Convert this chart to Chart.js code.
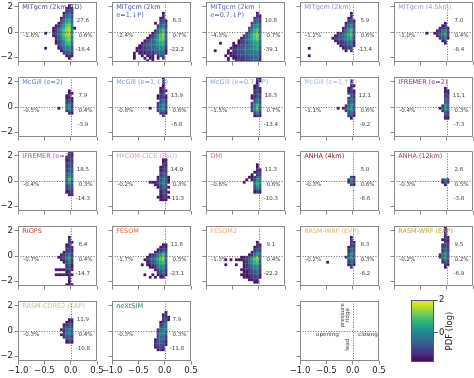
<!DOCTYPE html>
<html>
<head>
<meta charset="utf-8">
<script src="https://cdn.jsdelivr.net/npm/chart.js@4.4.1/dist/chart.umd.min.js"></script>
<style>
  html, body { margin: 0; padding: 0; background: #fff; }
  #fig { position: relative; width: 474px; height: 378px; overflow: hidden; }
  #fig canvas { position: absolute; }
</style>
</head>
<body>
<div id="fig"></div>
<script>
// ---------- data ----------
const xTicks = [-1.0, -0.5, 0.0, 0.5];
const yTicks = [-2, 0, 2];
const cbTicks = [0, 2];
const xRange = [-1.0, 0.5];
const yRange = [-2.4, 2.4];
const cbRange = [-1.8, 2.0];

// x centres of the histogram bins (one character per bin in the cell rows)
const xBinCentres = [-0.975, -0.925, -0.875, -0.825, -0.775, -0.725, -0.675, -0.625, -0.575, -0.525,
  -0.475, -0.425, -0.375, -0.325, -0.275, -0.225, -0.175, -0.125, -0.075, -0.025, 0.025, 0.075, 0.125];
// log PDF value for each digit used in the cell rows
const pdfLevels = [-1.6, -1.2, -0.85, -0.5, -0.15, 0.2, 0.55, 0.9, 1.25, 1.6];

const panelTitles = [
  'MITgcm (2km ITD)', 'MITgcm (2km\ne=1,\u2193P)', 'MITgcm (2km\ne=0.7,\u2193P)', 'MITgcm (2km)', 'MITgcm (4.5km)',
  'McGill (e=2)', 'McGill (e=1,\u2193P)', 'McGill (e=0.7,\u2193P)', 'McGill (e=1,\u2191G)', 'IFREMER (e=2)',
  'IFREMER (e=3)', 'HYCOM-CICE (FSU)', 'DMI', 'ANHA (4km)', 'ANHA (12km)',
  'RIOPS', 'FESOM', 'FESOM2', 'RASM-WRF (EVP)', 'RASM-WRF (EAP)',
  'RASM-CORE2 (EAP)', 'neXtSIM'
];
const pressureRidge = [27.6, 6.3, 10.8, 5.9, 7.0, 7.9, 13.9, 18.3, 12.1, 11.1, 18.5, 14.0, 11.3, 5.0, 2.6,
  6.4, 11.6, 9.1, 8.3, 9.5, 11.9, 7.9];
const leadValue = [-16.4, -22.2, -39.1, -13.4, -8.4, -3.9, -6.8, -13.4, -9.2, -7.3, -14.3, -11.3, -10.3, -6.6, -3.8,
  -14.7, -23.1, -22.2, -6.2, -6.9, -10.8, -11.8];
const openingPct = [-1.6, -2.4, -4.3, -1.2, -1.0, -0.5, -0.8, -1.5, -1.1, -0.4, -0.4, -0.2, -0.6, -0.3, -0.3,
  -0.7, -1.7, -1.3, -0.2, -0.2, -0.3, -0.3];
const closingPct = [0.6, 0.7, 0.7, 0.6, 0.4, 0.4, 0.6, 0.7, 0.6, 0.3, 0.3, 0.3, 0.6, 0.6, 0.5,
  0.4, 0.5, 0.4, 0.3, 0.2, 0.4, 0.3];
const titleColors = ['#4b4f8f', '#4c5a98', '#5a68a8', '#8a90c2', '#9c9ccc',
  '#5a80b2', '#7c9ccc', '#8eaed6', '#a6bedc', '#783078',
  '#9a5a9a', '#dca6cc', '#c878a8', '#8a1c2c', '#9a3848',
  '#b04838', '#d06a3a', '#eaa878', '#d6b868', '#b6a63a',
  '#c6c690', '#2a8050'];

// cell rows: "y centre:one digit per x bin" ('.' = empty bin)
const cellsMitItd = [
  "2.1:...................0...",
  "1.9:..................100..",
  "1.7:..................121..",
  "1.5:.................0231..",
  "1.3:.................1342..",
  "1.1:................02452..",
  "0.9:................13563..",
  "0.7:...............024673..",
  "0.5:..............0135784..",
  "0.3:.............012468940.",
  "0.1:.............01357895..",
  "-0.1:..........0..12357895..",
  "-0.3:.............01357895..",
  "-0.5:..............1246784..",
  "-0.7:..............0235784..",
  "-0.9:..............0134673..",
  "-1.1:...............124563..",
  "-1.3:..........0....013452..",
  "-1.5:................02342..",
  "-1.7:.................1231..",
  "-1.9:..................010..",
  "-2.1:...................0..."
];
const cellsMitE1 = [
  "1.5:...................0...",
  "1.3:...................1...",
  "1.1:..................01...",
  "0.9:..................120..",
  "0.7:................0.231..",
  "0.5:.................1241..",
  "0.3:.................2452..",
  "0.1:................13573..",
  "-0.1:...............024683..",
  "-0.3:..............0135783..",
  "-0.5:.............01245783..",
  "-0.7:............012346772..",
  "-0.9:...........0123345662..",
  "-1.1:..........01223345561..",
  "-1.3:.........001122334451..",
  "-1.5:.........011122233440..",
  "-1.7:........0.01011122330..",
  "-1.9:........0..0.010.122...",
  "-2.1:........0...0.00.0.1...",
  "-2.3:.............0.0......."
];
const cellsMitE07 = [
  "1.5:...................0...",
  "1.3:...................10..",
  "1.1:..................121..",
  "0.9:..................231..",
  "0.7:.................1342..",
  "0.5:.................2452..",
  "0.3:................13563..",
  "0.1:................24673..",
  "-0.1:...............135784..",
  "-0.3:..............1246784..",
  "-0.5:.............01346784..",
  "-0.7:............012345673..",
  "-0.9:.....0....0.012234563..",
  "-1.1:..........00122334563..",
  "-1.3:.........011223344562..",
  "-1.5:...0....0.11223334452..",
  "-1.7:........0011222333441..",
  "-1.9:.......0.001122233341..",
  "-2.1:........0.00111222331..",
  "-2.3:........0..0101112220.."
];
const cellsMit2km = [
  "1.5:...................0...",
  "1.3:...................1...",
  "1.1:..................01...",
  "0.9:..................120..",
  "0.7:.................0231..",
  "0.5:.................1351..",
  "0.3:................02462..",
  "0.1:................13572..",
  "-0.1:..............0124672..",
  "-0.3:.............01234672..",
  "-0.5:............012234561..",
  "-0.7:.............01123451..",
  "-0.9:..............0112340..",
  "-1.1:...............011230..",
  "-1.3:...0............0112...",
  "-1.5:.................0.1...",
  "-1.9:...0..................."
];
const cellsMit45km = [
  "0.7:...................0...",
  "0.5:..................01...",
  "0.3:.................0120..",
  "0.1:................01341..",
  "-0.1:............0..012461..",
  "-0.3:................02351..",
  "-0.5:.................1240..",
  "-0.7:..................02...",
  "-0.9:...................0..."
];
const cellsMcgE2 = [
  "1.3:...................0...",
  "1.1:...................00..",
  "0.9:..................01...",
  "0.7:..................010..",
  "0.5:..................120..",
  "0.3:..................231..",
  "0.1:..................351..",
  "-0.1:...............0..462..",
  "-0.3:..................131..",
  "-0.5:...................10.."
];
const cellsMcgE1 = [
  "2.3:...................0...",
  "2.1:...................0...",
  "1.9:...................1...",
  "1.7:...................0...",
  "1.5:..................01...",
  "1.3:..................010..",
  "1.1:..................11...",
  "0.9:.................0120..",
  "0.7:.................0120..",
  "0.5:..................231..",
  "0.3:.................1241..",
  "0.1:.................1352..",
  "-0.1:..............0..2462..",
  "-0.3:.................1341..",
  "-0.5:..................120..",
  "-0.7:...................1..."
];
const cellsMcgE07 = [
  "2.3:...................10..",
  "2.1:...................10..",
  "1.9:...................0...",
  "1.7:..................01...",
  "1.5:..................010..",
  "1.3:..................120..",
  "1.1:..................121..",
  "0.9:.................0121..",
  "0.7:.................0131..",
  "0.5:..................242..",
  "0.3:.................1352..",
  "0.1:.................1473..",
  "-0.1:.................2583..",
  "-0.3:.................1462..",
  "-0.5:..................241..",
  "-0.7:..................010.."
];
const cellsMcgG = [
  "2.1:...................0...",
  "1.9:...................1...",
  "1.7:...................10..",
  "1.5:..................01...",
  "1.3:..................010..",
  "1.1:..................120..",
  "0.9:...................21..",
  "0.7:..................131..",
  "0.5:..................231..",
  "0.3:..................242..",
  "0.1:.................1352..",
  "-0.1:..............0.02562..",
  "-0.3:.................1352..",
  "-0.5:..................231..",
  "-0.7:..................120..",
  "-0.9:...................0..."
];
const cellsIfrE2 = [
  "1.5:...................0...",
  "1.3:...................00..",
  "1.1:...................10..",
  "0.9:...................11..",
  "0.7:...................21..",
  "0.5:...................22..",
  "0.3:...................32..",
  "0.1:..................153..",
  "-0.1:.................0263..",
  "-0.3:..................142..",
  "-0.5:...................21..",
  "-0.7:...................11..",
  "-0.9:...................00.."
];
const cellsIfrE3 = [
  "2.3:...................11..",
  "2.1:...................10..",
  "1.9:..................011..",
  "1.7:..................011..",
  "1.5:..................121..",
  "1.3:..................122..",
  "1.1:..................122..",
  "0.9:..................132..",
  "0.7:..................232..",
  "0.5:..................243..",
  "0.3:..................353..",
  "0.1:..................374..",
  "-0.1:..................363..",
  "-0.3:..................242..",
  "-0.5:..................132..",
  "-0.7:..................121..",
  "-0.9:..................011..",
  "-1.1:...................00.."
];
const cellsHycom = [
  "1.7:...................00..",
  "1.5:...................01..",
  "1.3:...................10..",
  "1.1:..................011..",
  "0.9:..................011..",
  "0.7:..................121..",
  "0.5:..................122..",
  "0.3:.................02320.",
  "0.1:.................12430.",
  "-0.1:..............00013530.",
  "-0.3:................01242..",
  "-0.5:.................01320.",
  "-0.7:..................121..",
  "-0.9:..................0210.",
  "-1.1:..................011..",
  "-1.3:.................00110.",
  "-1.5:..................000.."
];
const cellsDmi = [
  "1.3:...................0...",
  "1.1:...................0...",
  "0.9:...................10..",
  "0.7:..................011..",
  "0.5:.................0.11..",
  "0.3:................00133..",
  "0.1:...............0.0254..",
  "-0.1:..............0...365..",
  "-0.3:..................364..",
  "-0.5:..................253..",
  "-0.7:..................131..",
  "-0.9:..................010.."
];
const cellsAnha4 = [
  "0.3:...................10..",
  "0.1:..................152..",
  "-0.1:..................142..",
  "-0.3:...................10.."
];
const cellsAnha12 = [
  "0.1:..................141..",
  "-0.1:..................031..",
  "-0.3:...................0..."
];
const cellsRiops = [
  "1.5:...................0...",
  "1.3:...................1...",
  "1.1:...................10..",
  "0.9:..................01...",
  "0.7:..................110..",
  "0.5:..................120..",
  "0.3:.................0121..",
  "0.1:................01241..",
  "-0.1:...............012462..",
  "-0.3:................01351..",
  "-0.5:.................0241..",
  "-0.7:..................130..",
  "-0.9:..................120..",
  "-1.1:..............0000120..",
  "-1.3:..................01...",
  "-1.5:..............0000010..",
  "-1.7:...................1...",
  "-1.9:...................0...",
  "-2.1:...................0...",
  "-2.3:..................000.."
];
const cellsFesom = [
  "0.9:...................00..",
  "0.7:..................010..",
  "0.5:.................0121..",
  "0.3:................01242..",
  "0.1:..............0124573..",
  "-0.1:.............01235784..",
  "-0.3:............012346783..",
  "-0.5:.............01235673..",
  "-0.7:...........0.00124562..",
  "-0.9:..............0013452..",
  "-1.1:................02341..",
  "-1.3:.................1231..",
  "-1.5:............0..0.0120..",
  "-1.7:..............0.0.01..."
];
const cellsFesom2 = [
  "1.1:...................0...",
  "0.9:...................10..",
  "0.7:..................011..",
  "0.5:..................121..",
  "0.3:.................0242..",
  "0.1:................01353..",
  "-0.1:.............00124683..",
  "-0.3:.......0.0.0001235783..",
  "-0.5:..............0134672..",
  "-0.7:.......0...0..0124562..",
  "-0.9:..............0123451..",
  "-1.1:.............00112341..",
  "-1.3:..............0012231..",
  "-1.5:.............00011230..",
  "-1.7:..............0001120..",
  "-1.9:................0011...",
  "-2.1:..................00..."
];
const cellsRasmEvp = [
  "1.5:...................0...",
  "1.3:...................1...",
  "1.1:...................10..",
  "0.9:...................11..",
  "0.7:..................021..",
  "0.5:..................131..",
  "0.3:..................142..",
  "0.1:..................252..",
  "-0.1:.................1363..",
  "-0.3:..................242..",
  "-0.5:..........0.......131..",
  "-0.7:..................020..",
  "-0.9:...................1..."
];
const cellsRasmEap = [
  "2.3:...................0...",
  "2.1:...................1...",
  "1.9:...................0...",
  "1.7:...................1...",
  "1.5:...................10..",
  "1.3:..................010..",
  "1.1:...................10..",
  "0.9:..................121..",
  "0.7:..................121..",
  "0.5:..................131..",
  "0.3:..................242..",
  "0.1:.................1352..",
  "-0.1:.................1463..",
  "-0.3:..................242..",
  "-0.5:..................121..",
  "-0.7:...................10..",
  "-0.9:...................0..."
];
const cellsRasmCore2 = [
  "0.9:...................00..",
  "0.7:..................010..",
  "0.5:.................0121..",
  "0.3:.................1232..",
  "0.1:................01343..",
  "-0.1:.................1453..",
  "-0.3:................01342..",
  "-0.5:.................1231..",
  "-0.7:..................121..",
  "-0.9:..................010.."
];
const cellsNextsim = [
  "1.5:....................0..",
  "1.3:...................01..",
  "1.1:...................110.",
  "0.9:...................120.",
  "0.7:..................012..",
  "0.5:..................123..",
  "0.3:..................233..",
  "0.1:.................1344..",
  "-0.1:.................2453..",
  "-0.3:.................2442..",
  "-0.5:.................2331..",
  "-0.7:................02331..",
  "-0.9:................12320..",
  "-1.1:................12220..",
  "-1.3:................0121...",
  "-1.5:.................010..."
];

const panelCells = [cellsMitItd, cellsMitE1, cellsMitE07, cellsMit2km, cellsMit45km,
  cellsMcgE2, cellsMcgE1, cellsMcgE07, cellsMcgG, cellsIfrE2,
  cellsIfrE3, cellsHycom, cellsDmi, cellsAnha4, cellsAnha12,
  cellsRiops, cellsFesom, cellsFesom2, cellsRasmEvp, cellsRasmEap,
  cellsRasmCore2, cellsNextsim];

// ---------- layout ----------
const colLeft = [18, 112, 206, 300, 394];
const rowTop = [2, 77, 151, 226, 301];
const PANEL_W = 79, PANEL_H = 60;
const PAD_L = 22, PAD_R = 14, PAD_T = 6, PAD_B = 16;
const FONT = '"DejaVu Sans", sans-serif';
const TEXT_COLOR = '#3a3a3a';
const AXIS_COLOR = '#888';

Chart.defaults.font.family = FONT;

const viridisStops = ['#440154', '#482878', '#3e4989', '#31688e', '#26828e',
  '#1f9e89', '#35b779', '#6ece58', '#b5de2b', '#fde725'];

function hexToRgb(h) {
  return [parseInt(h.slice(1, 3), 16), parseInt(h.slice(3, 5), 16), parseInt(h.slice(5, 7), 16)];
}
const viridisRgb = viridisStops.map(hexToRgb);

function viridis(v) {
  let t = (v - cbRange[0]) / (cbRange[1] - cbRange[0]);
  t = Math.max(0, Math.min(1, t)) * (viridisRgb.length - 1);
  const i = Math.min(Math.floor(t), viridisRgb.length - 2);
  const f = t - i;
  const a = viridisRgb[i], b = viridisRgb[i + 1];
  const c = a.map((ch, k) => Math.round(ch + (b[k] - ch) * f));
  return `rgb(${c[0]},${c[1]},${c[2]})`;
}

function cellsToPoints(rows) {
  const pts = [];
  rows.forEach(r => {
    const [y, bins] = r.split(':');
    for (let i = 0; i < bins.length && i < xBinCentres.length; i++) {
      if (bins[i] === '.') continue;
      pts.push({ x: xBinCentres[i], y: parseFloat(y), v: pdfLevels[+bins[i]] });
    }
  });
  return pts;
}

function fmtTick(v, digits) {
  const s = Math.abs(v).toFixed(digits);
  return (v < 0 ? '\u2212' : '') + s;
}

function drawText(ctx, text, x, y, size, color, align, rotate) {
  ctx.save();
  ctx.font = `${size}px ${FONT}`;
  ctx.fillStyle = color;
  ctx.textAlign = align;
  ctx.textBaseline = 'middle';
  ctx.translate(x, y);
  if (rotate) ctx.rotate(-Math.PI / 2);
  ctx.fillText(text, 0, 0);
  ctx.restore();
}

// zero lines, labels and frame of one panel
function panelPlugin(info) {
  return {
    id: 'panelDecor',
    afterDatasetsDraw(chart) {
      const { ctx, chartArea: a, scales: { x, y } } = chart;
      const x0 = x.getPixelForValue(0), y0 = y.getPixelForValue(0);
      ctx.save();
      ctx.beginPath();
      ctx.rect(a.left, a.top, a.right - a.left, a.bottom - a.top);
      ctx.clip();
      ctx.strokeStyle = '#555';
      ctx.lineWidth = 0.9;
      ctx.setLineDash([1, 1.6]);
      ctx.beginPath();
      ctx.moveTo(a.left, Math.round(y0) + 0.5);
      ctx.lineTo(a.right, Math.round(y0) + 0.5);
      ctx.moveTo(Math.round(x0) + 0.5, a.top);
      ctx.lineTo(Math.round(x0) + 0.5, a.bottom);
      ctx.stroke();
      ctx.restore();

      const px = v => x.getPixelForValue(v), py = v => y.getPixelForValue(v);
      if (info.legend) {
        drawText(ctx, 'pressure', px(-0.19), py(1.25), 5.6, TEXT_COLOR, 'center', true);
        drawText(ctx, 'ridge', px(-0.09), py(1.25), 5.6, TEXT_COLOR, 'center', true);
        drawText(ctx, 'lead', px(-0.1), py(-1.1), 5.6, TEXT_COLOR, 'center', true);
        drawText(ctx, 'opening', px(-0.48), py(-0.32), 5.6, TEXT_COLOR, 'center');
        drawText(ctx, 'closing', px(0.29), py(-0.32), 5.6, TEXT_COLOR, 'center');
        return;
      }
      info.title.split('\n').forEach((line, k) => {
        drawText(ctx, line, px(-0.92), py(2.0 - 0.64 * k), 6.5, info.color, 'left');
      });
      drawText(ctx, info.ridge.toFixed(1), px(0.23), py(0.95), 5.5, TEXT_COLOR, 'center');
      drawText(ctx, info.open.toFixed(1) + '%', px(-0.75), py(-0.25), 5.5, TEXT_COLOR, 'center');
      drawText(ctx, info.close.toFixed(1) + '%', px(0.28), py(-0.25), 5.5, TEXT_COLOR, 'center');
      drawText(ctx, info.lead.toFixed(1), px(0.23), py(-1.38), 5.5, TEXT_COLOR, 'center');
    },
    afterDraw(chart) {
      const { ctx, chartArea: a } = chart;
      ctx.save();
      ctx.strokeStyle = AXIS_COLOR;
      ctx.lineWidth = 1;
      ctx.strokeRect(a.left + 0.5, a.top + 0.5, a.right - a.left - 1, a.bottom - a.top - 1);
      ctx.restore();
    }
  };
}

function makeCanvas(left, top, w, h) {
  const c = document.createElement('canvas');
  c.width = w; c.height = h;
  c.style.left = left + 'px';
  c.style.top = top + 'px';
  c.style.width = w + 'px';
  c.style.height = h + 'px';
  document.getElementById('fig').appendChild(c);
  return c;
}

function makePanel(row, col, cells, info) {
  const canvas = makeCanvas(colLeft[col] - PAD_L, rowTop[row] - PAD_T,
    PANEL_W + PAD_L + PAD_R, PANEL_H + PAD_T + PAD_B);
  const showX = row === 4;
  const showY = col === 0;
  new Chart(canvas, {
    type: 'scatter',
    data: {
      datasets: [{
        data: cellsToPoints(cells),
        pointStyle: 'rect',
        pointRadius: ctx => {
          const s = ctx.chart.scales.x;
          return (Math.abs(s.getPixelForValue(0.05) - s.getPixelForValue(0)) + 0.15) / Math.SQRT2;
        },
        pointBackgroundColor: ctx => ctx.raw ? viridis(ctx.raw.v) : '#000',
        pointBorderWidth: 0,
        clip: 0
      }]
    },
    options: {
      responsive: false,
      animation: false,
      devicePixelRatio: 1,
      events: [],
      layout: { padding: { left: 0, right: PAD_R, top: PAD_T, bottom: 0 } },
      plugins: { legend: { display: false }, tooltip: { enabled: false } },
      scales: {
        x: {
          type: 'linear', min: xRange[0], max: xRange[1],
          afterBuildTicks: s => { s.ticks = xTicks.map(v => ({ value: v })); },
          afterFit: s => { s.height = PAD_B; s.paddingLeft = 0; s.paddingRight = 0; },
          ticks: {
            display: showX, autoSkip: false, maxRotation: 0, padding: 1.5,
            color: '#222', font: { size: 8.5 },
            callback: v => fmtTick(v, 1)
          },
          grid: { drawOnChartArea: false, drawTicks: true, tickLength: 3.5, color: AXIS_COLOR },
          border: { display: false }
        },
        y: {
          type: 'linear', min: yRange[0], max: yRange[1],
          afterBuildTicks: s => { s.ticks = yTicks.map(v => ({ value: v })); },
          afterFit: s => { s.width = PAD_L; s.paddingTop = 0; s.paddingBottom = 0; },
          ticks: {
            display: showY, autoSkip: false, padding: 1.5,
            color: '#222', font: { size: 8.5 },
            callback: v => fmtTick(v, 0)
          },
          grid: { drawOnChartArea: false, drawTicks: true, tickLength: 3.5, color: AXIS_COLOR },
          border: { display: false }
        }
      }
    },
    plugins: [panelPlugin(info)]
  });
}

panelCells.forEach((cells, i) => {
  makePanel(Math.floor(i / 5), i % 5, cells, {
    title: panelTitles[i], color: titleColors[i],
    ridge: pressureRidge[i], lead: leadValue[i],
    open: openingPct[i], close: closingPct[i]
  });
});

// explanation panel
makePanel(4, 3, [], { legend: true });

// ---------- colour bar ----------
const CB_LEFT = 411, CB_TOP = 300, CB_W = 23, CB_H = 62, CB_AXIS = 40;
const cbCanvas = makeCanvas(CB_LEFT, CB_TOP - 6, CB_W + CB_AXIS, CB_H + 12);

function cbGradient(chart) {
  const a = chart.chartArea;
  if (!a) return null;
  const y = chart.scales.y;
  const g = chart.ctx.createLinearGradient(0, y.getPixelForValue(cbRange[0]), 0, y.getPixelForValue(cbRange[1]));
  viridisStops.forEach((c, i) => g.addColorStop(i / (viridisStops.length - 1), c));
  return g;
}

new Chart(cbCanvas, {
  type: 'bar',
  data: {
    labels: ['PDF'],
    datasets: [{
      data: [cbRange],
      backgroundColor: ctx => cbGradient(ctx.chart),
      borderWidth: 0,
      barPercentage: 1,
      categoryPercentage: 1
    }]
  },
  options: {
    responsive: false,
    animation: false,
    devicePixelRatio: 1,
    events: [],
    layout: { padding: { left: 0, right: 0, top: 6, bottom: 6 } },
    plugins: { legend: { display: false }, tooltip: { enabled: false } },
    scales: {
      x: { display: false },
      y: {
        position: 'right', min: cbRange[0], max: cbRange[1],
        afterBuildTicks: s => { s.ticks = cbTicks.map(v => ({ value: v })); },
        afterFit: s => { s.width = CB_AXIS; s.paddingTop = 0; s.paddingBottom = 0; },
        ticks: { padding: 1.5, color: '#222', font: { size: 8.5 }, callback: v => fmtTick(v, 0) },
        grid: { drawOnChartArea: false, drawTicks: true, tickLength: 3.5, color: '#555' },
        border: { display: false }
      }
    }
  },
  plugins: [{
    id: 'cbFrame',
    afterDraw(chart) {
      const { ctx, chartArea: a } = chart;
      ctx.save();
      ctx.strokeStyle = '#555';
      ctx.lineWidth = 1;
      ctx.strokeRect(a.left + 0.5, a.top + 0.5, a.right - a.left - 1, a.bottom - a.top - 1);
      ctx.restore();
      drawText(ctx, 'PDF (log)', a.right + 16, (a.top + a.bottom) / 2, 8.5, '#222', 'center', true);
    }
  }]
});
</script>
</body>
</html>
